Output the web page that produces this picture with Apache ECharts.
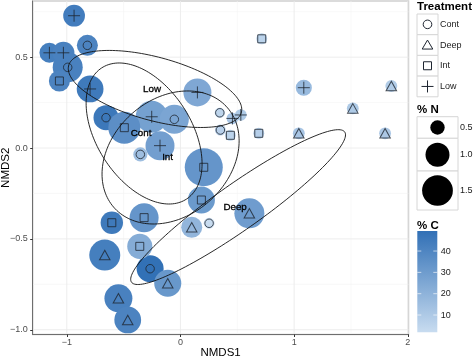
<!DOCTYPE html>
<html><head><meta charset="utf-8">
<script src="https://cdn.jsdelivr.net/npm/echarts@6/dist/echarts.min.js"></script>
<style>html,body{margin:0;padding:0;background:#fff}#c{width:474px;height:357px}</style>
</head><body><div id="c"></div>
<script>
// ---------------- data ----------------
const sampleTreatment = [
  'Low','Low','Low','Low','Low','Low','Low','Low','Low','Low',
  'Cont','Cont','Cont','Cont','Cont','Cont','Cont','Cont','Cont',
  'Int','Int','Int','Int','Int','Int','Int','Int','Int','Int',
  'Deep','Deep','Deep','Deep','Deep','Deep','Deep','Deep','Deep','Deep'
];
const nmds1 = [
  -0.936,-1.153,-1.030,-0.795,-0.253,-0.180,0.149,0.457,0.531,1.085,
  -0.819,-0.992,-0.655,-0.054,-0.353,0.346,0.351,0.252,-0.267,
  -1.065,-0.494,0.439,0.689,0.715,0.205,0.184,-0.604,-0.320,-0.358,
  1.041,1.516,1.855,1.800,0.099,0.606,-0.666,-0.112,-0.546,-0.464
];
const nmds2 = [
  0.728,0.524,0.524,0.325,0.172,0.013,0.306,0.163,0.182,0.332,
  0.565,0.444,0.167,0.158,-0.035,0.194,0.099,-0.414,-0.664,
  0.369,0.112,0.070,0.081,0.601,-0.106,-0.286,-0.411,-0.383,-0.541,
  0.081,0.218,0.341,0.081,-0.436,-0.359,-0.589,-0.744,-0.827,-0.946
];
const pctN = [
  0.86,0.76,0.88,1.19,1.60,1.36,1.28,0.40,0.40,0.57,
  0.82,1.44,1.07,1.36,0.49,0.36,0.38,0.38,1.21,
  0.82,1.61,0.38,0.38,0.38,2.18,1.21,0.90,1.36,1.07,
  0.41,0.41,0.41,0.41,0.82,1.44,1.52,1.21,1.28,1.19
];
const pctC = [
  44,43,42,45,28,29,25,12,10,17,
  41,42,46,26,15,5,7,2,49,
  41,36,6,8,6,33,31,45,33,23,
  12,10,9,11,19,30,43,32,42,41
];
// group ellipses (centre, x-spread, y-spread, correlation) and label positions
const groupNames = ['Cont','Deep','Int','Low'];
const groupCx = [-0.320, 0.507, -0.087, -0.224];
const groupCy = [0.080, -0.325, -0.052, 0.325];
const ellipseSx = [0.510, 0.945, 0.603, 0.763];
const ellipseSy = [0.388, 0.426, 0.366, 0.212];
const ellipseR = [-0.43, 0.933, 0.25, -0.53];
// axes
const xRange = [-1.30, 2.006];
const yRange = [-1.026, 0.809];
const xTicks = [-1, 0, 1, 2];
const yTicks = [-1, -0.5, 0, 0.5];
const xMinorTicks = [-0.5, 0.5, 1.5];
const yMinorTicks = [-0.75, -0.25, 0.25, 0.75];
// legends
const cRange = [1.9, 49.4];
const colorbarTicks = [10, 20, 30, 40];
const sizeLegendValues = [0.5, 1.0, 1.5];

// ---------------- styling ----------------
const FONT = '"Liberation Sans", Arial, Helvetica, sans-serif';
const C_LOW = '#c8dcf0', C_HIGH = '#3170b6';
const SYM = '#1e2530';
function sizeOf(n){ return 2*Math.sqrt(Math.max(184.4*n - 40.4, 4)); }
function fmt(v, d){ return (v < 0 ? '\u2212' : '') + Math.abs(v).toFixed(d); }

const symbolOf = {
  Cont: {symbol:'circle', size:8.5},
  Deep: {symbol:'triangle', size:[10.5,9.5]},
  Int:  {symbol:'rect', size:8},
  Low:  {symbol:'path://M0,6H12M6,0V12', size:12}
};

const chart = echarts.init(document.getElementById('c'), null, {renderer:'canvas'});

const circleData = nmds1.map((x,i)=>[x, nmds2[i], pctN[i], pctC[i]]);

const shapeSeries = groupNames.map(g => ({
  type:'scatter', name:g, z:3, silent:true,
  symbol: symbolOf[g].symbol, symbolSize: symbolOf[g].size, symbolKeepAspect:true,
  itemStyle:{color:'rgba(0,0,0,0)', borderColor:SYM, borderWidth:1},
  data: nmds1.map((x,i)=>sampleTreatment[i]===g ? [x, nmds2[i]] : null).filter(d=>d)
}));

function gridSeries(vals, isX, color, width){
  return {
    type:'custom', silent:true, z:0, clip:true,
    data: vals.map(v=>[v]),
    encode: isX ? {x:0} : {y:0},
    renderItem:(params, api)=>{
      const v = api.value(0);
      const p1 = isX ? api.coord([v, yRange[0]]) : api.coord([xRange[0], v]);
      const p2 = isX ? api.coord([v, yRange[1]]) : api.coord([xRange[1], v]);
      return {type:'line', shape:{x1:p1[0],y1:p1[1],x2:p2[0],y2:p2[1]}, style:{stroke:color, lineWidth:width}};
    }
  };
}

const ellipseSeries = {
  type:'custom', silent:true, z:4, clip:false,
  data: groupNames.map((g,i)=>[groupCx[i], groupCy[i], ellipseSx[i], ellipseSy[i], ellipseR[i]]),
  encode:{x:0, y:1},
  renderItem:(params, api)=>{
    const cx=api.value(0), cy=api.value(1), sx=api.value(2), sy=api.value(3), r=api.value(4);
    const k = Math.sqrt(1-r*r), pts=[];
    for(let j=0;j<=160;j++){
      const t = j/160*2*Math.PI;
      pts.push(api.coord([cx+sx*Math.cos(t), cy+sy*(r*Math.cos(t)+k*Math.sin(t))]));
    }
    return {type:'polyline', shape:{points:pts}, style:{stroke:'#111', fill:null, lineWidth:0.9}};
  }
};

const labelSeries = {
  type:'custom', silent:true, z:5, clip:false,
  data: groupNames.map((g,i)=>[groupCx[i], groupCy[i]]),
  encode:{x:0, y:1},
  renderItem:(params, api)=>{
    const p = api.coord([api.value(0), api.value(1)]);
    return {type:'text', x:p[0]-3, y:p[1], style:{text:groupNames[params.dataIndex], fill:'#000',
      fontSize:9.8, fontFamily:FONT, align:'center', verticalAlign:'middle', stroke:'#000', lineWidth:0.3}};
  }
};

// ---------------- legends (graphic) ----------------
const G = [];
const LX = 417;
// Treatment
G.push({type:'text', x:LX, y:7, style:{text:'Treatment', fontSize:11.5, fontWeight:'bold', fontFamily:FONT, fill:'#000', verticalAlign:'middle'}});
const keyH = 20.7, keyTop = 14;
groupNames.forEach((g,i)=>{
  const y0 = keyTop + keyH*i, cy = y0 + keyH/2, cx = LX + 10.5;
  G.push({type:'rect', shape:{x:LX, y:y0, width:21, height:keyH}, style:{fill:'#fff', stroke:'#d6d6d6', lineWidth:1}});
  let sym;
  if(g==='Cont') sym = {type:'circle', shape:{cx:cx, cy:cy, r:4.3}};
  else if(g==='Deep') sym = {type:'polygon', shape:{points:[[cx,cy-5],[cx-5.3,cy+4],[cx+5.3,cy+4]]}};
  else if(g==='Int') sym = {type:'rect', shape:{x:cx-4, y:cy-4, width:8, height:8}};
  else sym = {type:'polyline', shape:{points:[[cx-6,cy],[cx+6,cy]]}};
  sym.style = {fill:'none', stroke:SYM, lineWidth:1};
  G.push(sym);
  if(g==='Low') G.push({type:'polyline', shape:{points:[[cx,cy-6],[cx,cy+6]]}, style:{fill:'none', stroke:SYM, lineWidth:1}});
  G.push({type:'text', x:LX+23, y:cy, style:{text:g, fontSize:9, fontFamily:FONT, fill:'#1a1a1a', verticalAlign:'middle'}});
});
// % N
G.push({type:'text', x:LX, y:110, style:{text:'% N', fontSize:11.5, fontWeight:'bold', fontFamily:FONT, fill:'#000', verticalAlign:'middle'}});
const nKeyH = [21.6, 32.7, 39];
let ny = 116.7;
sizeLegendValues.forEach((v,i)=>{
  const cy = ny + nKeyH[i]/2;
  G.push({type:'rect', shape:{x:LX, y:ny, width:41, height:nKeyH[i]}, style:{fill:'#fff', stroke:'#d6d6d6', lineWidth:1}});
  G.push({type:'circle', shape:{cx:LX+20.5, cy:cy, r:sizeOf(v)/2}, style:{fill:'#000'}});
  G.push({type:'text', x:LX+43, y:cy, style:{text:v.toFixed(1), fontSize:9, fontFamily:FONT, fill:'#1a1a1a', verticalAlign:'middle'}});
  ny += nKeyH[i];
});
// % C
G.push({type:'text', x:LX, y:225.5, style:{text:'% C', fontSize:11.5, fontWeight:'bold', fontFamily:FONT, fill:'#000', verticalAlign:'middle'}});
const barTop = 231, barH = 101.3, barX = 417.3, barW = 20;
G.push({type:'rect', shape:{x:barX, y:barTop, width:barW, height:barH},
  style:{fill:new echarts.graphic.LinearGradient(0,0,0,1,[{offset:0,color:C_HIGH},{offset:1,color:C_LOW}])}});
colorbarTicks.forEach(v=>{
  const y = barTop + barH - (v-cRange[0])/(cRange[1]-cRange[0])*barH;
  G.push({type:'line', shape:{x1:barX, y1:y, x2:barX+4, y2:y}, style:{stroke:'#fff', lineWidth:0.8, opacity:0.8}});
  G.push({type:'line', shape:{x1:barX+barW-4, y1:y, x2:barX+barW, y2:y}, style:{stroke:'#fff', lineWidth:0.8, opacity:0.8}});
  G.push({type:'text', x:barX+barW+3.5, y:y, style:{text:String(v), fontSize:9, fontFamily:FONT, fill:'#1a1a1a', verticalAlign:'middle'}});
});

const option = {
  animation:false,
  backgroundColor:'#fff',
  textStyle:{fontFamily:FONT},
  grid:{left:32.7, right:65.5, top:1, bottom:22.5, containLabel:false, outerBoundsMode:'none',
    show:true, borderColor:'#cfcfcf', borderWidth:1.5, backgroundColor:'#fff'},
  xAxis:{
    type:'value', min:xRange[0], max:xRange[1],
    name:'NMDS1', nameLocation:'middle', nameGap:12, nameMoveOverlap:false,
    nameTextStyle:{fontSize:11.5, color:'#000', fontFamily:FONT},
    axisLine:{show:true, onZero:false, lineStyle:{color:'#6e6e6e', width:1}},
    axisTick:{show:true, length:2.5, customValues:xTicks, lineStyle:{color:'#333'}},
    axisLabel:{customValues:xTicks, margin:4, fontSize:9, color:'#4d4d4d', fontFamily:FONT, formatter:v=>fmt(v,0)},
    splitLine:{show:false}
  },
  yAxis:{
    type:'value', min:yRange[0], max:yRange[1],
    name:'NMDS2', nameLocation:'middle', nameGap:21, nameMoveOverlap:false,
    nameTextStyle:{fontSize:11.5, color:'#000', fontFamily:FONT},
    axisLine:{show:true, onZero:false, lineStyle:{color:'#6e6e6e', width:1}},
    axisTick:{show:true, length:2.5, customValues:yTicks, lineStyle:{color:'#333'}},
    axisLabel:{customValues:yTicks, margin:5, fontSize:9, color:'#4d4d4d', fontFamily:FONT, formatter:v=>fmt(v,1)},
    splitLine:{show:false}
  },
  visualMap:{type:'continuous', show:false, seriesIndex:4, dimension:3, min:cRange[0], max:cRange[1],
    inRange:{color:[C_LOW, C_HIGH]}},
  series:[
    gridSeries(xMinorTicks, true, '#f4f4f4', 0.6),
    gridSeries(yMinorTicks, false, '#f4f4f4', 0.6),
    gridSeries(xTicks, true, '#ebebeb', 0.9),
    gridSeries(yTicks, false, '#ebebeb', 0.9),
    {type:'scatter', z:2, silent:true, symbol:'circle', data:circleData,
      symbolSize:(val)=>sizeOf(val[2]), itemStyle:{opacity:1}},
    ...shapeSeries,
    ellipseSeries,
    labelSeries
  ],
  graphic:G
};
chart.setOption(option);
</script></body></html>
